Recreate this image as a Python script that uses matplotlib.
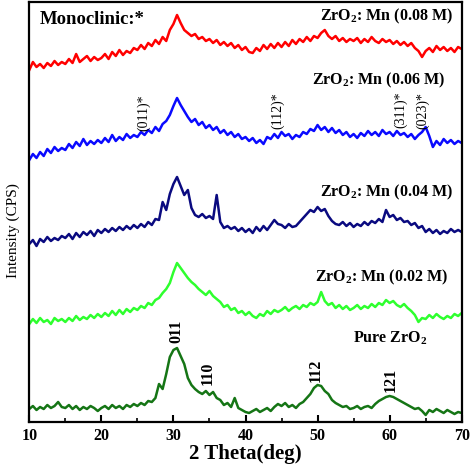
import numpy as np
import matplotlib
matplotlib.use("Agg")
import matplotlib.pyplot as plt
from matplotlib.ticker import MultipleLocator

# 2-theta grid (deg), 0.5 deg steps
two_theta = np.arange(10.0, 70.01, 0.5)

mn_008 = [352, 360, 355, 358, 354, 359, 356, 361, 357, 360,
          358, 363, 359, 368, 360, 363, 366, 361, 365, 362,
          364, 368, 363, 370, 366, 372, 367, 371, 369, 374,
          372, 377, 373, 379, 376, 382, 378, 385, 381, 392,
          398, 407, 399, 392, 389, 386, 388, 383, 385, 381,
          383, 379, 382, 377, 380, 376, 379, 374, 377, 372,
          375, 370, 369, 374, 371, 377, 373, 378, 374, 379,
          375, 380, 376, 382, 378, 383, 380, 385, 381, 386,
          384, 389, 392, 386, 383, 386, 381, 384, 380, 383,
          381, 384, 379, 383, 380, 385, 381, 379, 383, 380,
          382, 378, 381, 377, 380, 376, 379, 374, 371, 365,
          371, 374, 370, 376, 372, 375, 371, 374, 370, 375,
          373]

mn_006 = [262, 268, 264, 270, 266, 273, 269, 275, 271, 274,
          272, 278, 274, 280, 276, 283, 277, 281, 278, 282,
          279, 284, 280, 287, 281, 285, 282, 288, 284, 287,
          285, 290, 287, 292, 289, 295, 291, 298, 301, 307,
          316, 324, 317, 311, 305, 300, 303, 297, 300, 294,
          297, 292, 295, 289, 292, 287, 290, 285, 288, 283,
          285, 281, 284, 279, 282, 278, 285, 283, 288, 284,
          290, 286, 288, 283, 287, 285, 290, 288, 293, 291,
          297, 292, 295, 290, 294, 289, 292, 287, 290, 285,
          288, 284, 289, 286, 291, 287, 290, 286, 292, 288,
          290, 286, 291, 287, 289, 285, 288, 283, 287, 290,
          295, 286, 275, 281, 277, 283, 279, 282, 278, 281,
          279]

mn_004 = [178, 182, 176, 183, 180, 185, 181, 184, 182, 186,
          184, 188, 183, 189, 185, 190, 187, 191, 186, 192,
          189, 193, 190, 194, 191, 195, 192, 196, 193, 197,
          194, 198, 195, 200, 197, 203, 202, 220, 212, 228,
          238, 245, 236, 227, 232, 214, 207, 205, 208, 204,
          206, 203, 227, 200, 194, 196, 193, 195, 191, 194,
          190, 193, 189, 195, 191, 196, 192, 197, 202, 198,
          197, 194, 198, 195, 196, 200, 204, 208, 212, 210,
          215, 211, 213, 206, 201, 198, 197, 200, 196, 199,
          195, 198, 196, 200, 197, 201, 199, 203, 200, 212,
          205, 207, 202, 204, 200, 201, 197, 199, 194, 196,
          190, 193, 189, 192, 188, 191, 189, 193, 190, 192,
          190]

mn_002 = [98, 103, 99, 104, 100, 102, 98, 104, 101, 103,
          100, 104, 101, 106, 102, 105, 103, 107, 104, 108,
          105, 109, 106, 111, 107, 112, 108, 113, 110, 114,
          112, 116, 114, 119, 117, 122, 124, 129, 133, 139,
          150, 159, 154, 149, 144, 140, 137, 133, 130, 127,
          131, 126, 123, 120, 115, 117, 112, 114, 109, 111,
          107, 110, 106, 104, 108, 106, 111, 108, 112, 110,
          112, 115, 111, 114, 116, 113, 117, 115, 119, 117,
          120, 130, 121, 117, 119, 114, 117, 113, 116, 112,
          114, 117, 113, 116, 114, 118, 115, 119, 117, 122,
          119, 121, 117, 115, 118, 114, 111, 107, 100, 104,
          103, 107, 104, 108, 105, 103, 106, 104, 108, 106,
          109]

pure = [13, 16, 12, 15, 13, 17, 14, 16, 20, 15,
        14, 17, 13, 16, 12, 15, 13, 16, 14, 11,
        14, 16, 13, 17, 14, 16, 13, 17, 15, 18,
        16, 19, 17, 21, 20, 24, 38, 33, 48, 65,
        72, 74, 66, 58, 44, 37, 33, 30, 28, 31,
        27, 30, 24, 22, 17, 19, 15, 24, 14, 12,
        10, 9, 11, 13, 10, 12, 14, 11, 15, 18,
        16, 19, 15, 17, 14, 18, 20, 24, 28, 34,
        37, 36, 31, 28, 22, 19, 17, 15, 16, 13,
        14, 16, 13, 15, 16, 14, 18, 21, 23, 25,
        26, 25, 23, 21, 19, 17, 15, 13, 14, 11,
        7, 12, 10, 13, 11, 9, 12, 10, 8, 10,
        9]

series_labels = [r"ZrO$_\mathbf{2}$: Mn (0.08 M)", r"ZrO$_\mathbf{2}$: Mn (0.06 M)",
                 r"ZrO$_\mathbf{2}$: Mn (0.04 M)", r"ZrO$_\mathbf{2}$: Mn (0.02 M)",
                 r"Pure ZrO$_\mathbf{2}$"]
series_values = [mn_008, mn_006, mn_004, mn_002, pure]
colors = ["#ff0000", "#0a0aff", "#0a0a80", "#2eff2e", "#157515"]
label_pos = [(68.7, 406), (67.7, 342), (68.7, 230), (68.0, 145), (65.2, 84)]
label_size = [11.5, 11.5, 11.5, 11.5, 11.5]

mono_hkl = ["(011)*", "(112)*", "(311)*", "(023)*"]
mono_pos = [25.8, 44.5, 61.5, 64.6]
mono_y = [291, 293, 294, 293]

pure_hkl = ["011", "110", "112", "121"]
pure_pos = [30.4, 34.7, 49.7, 60.1]
pure_y = [79, 37, 40, 30]

x_ticks = [10, 20, 30, 40, 50, 60, 70]

plt.rcParams['font.family'] = ['Liberation Serif', 'DejaVu Serif']
plt.rcParams['mathtext.fontset'] = 'custom'
plt.rcParams['mathtext.rm'] = 'Liberation Serif'
plt.rcParams['mathtext.it'] = 'Liberation Serif'
plt.rcParams['mathtext.bf'] = 'Liberation Serif:bold'

fig = plt.figure(figsize=(4.74, 4.72), dpi=100)
ax = fig.add_axes([29.3 / 474, 1 - 422 / 472, (461.7 - 29.3) / 474, 420 / 472])

for vals, c in zip(series_values, colors):
    ax.plot(two_theta, vals, color=c, lw=1.8)

for lab, (lx, ly), fs in zip(series_labels, label_pos, label_size):
    ax.text(lx, ly, lab, ha='right', va='center', fontsize=fs, fontweight='bold')

ax.text(11.5, 402, "Monoclinic:*", ha='left', va='center', fontsize=13.5, fontweight='bold')

for t, xp, yp in zip(mono_hkl, mono_pos, mono_y):
    ax.text(xp, yp, t, rotation=90, ha='center', va='bottom', fontsize=10)

for t, xp, yp in zip(pure_hkl, pure_pos, pure_y):
    ax.text(xp, yp, t, rotation=90, ha='center', va='bottom', fontsize=11.5, fontweight='bold')

ax.set_xlim(10, 70)
ax.set_ylim(0, 420)
ax.set_xticks(x_ticks)
ax.set_xticklabels([str(v) for v in x_ticks], fontweight='bold', fontsize=11.5)
ax.xaxis.set_minor_locator(MultipleLocator(5))
ax.set_yticks([])
ax.tick_params(axis='x', which='major', direction='in', length=5, width=1.5, top=False, pad=4)
ax.tick_params(axis='x', which='minor', direction='in', length=3, width=1.2, top=False)
for s in ax.spines.values():
    s.set_linewidth(1.6)

ax.set_xlabel("2 Theta(deg)", fontsize=15, fontweight='bold', labelpad=0)
fig.text(13 / 474, 1 - 231 / 472, "Intensity (CPS)", rotation=90, ha='center', va='center', fontsize=11)

fig.savefig("out.png", dpi=100)
